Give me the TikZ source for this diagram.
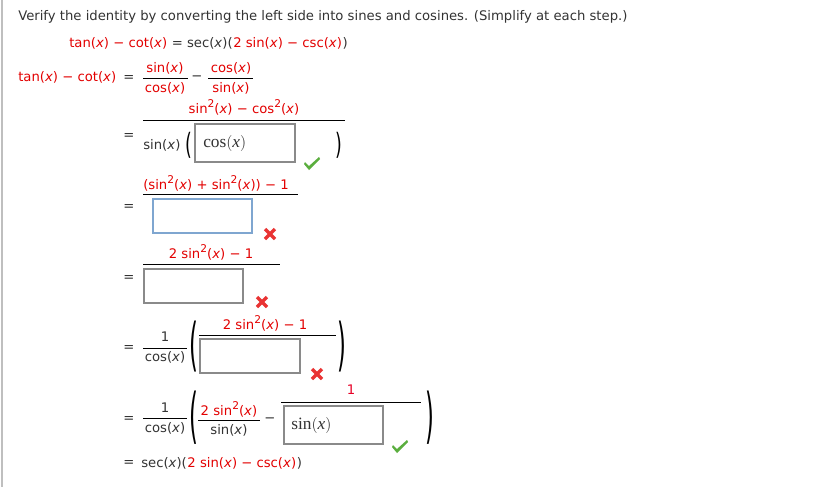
\documentclass[tikz,border=0pt]{standalone}
\usepackage{fontspec}
\setmainfont{DejaVu Sans}
\newfontfamily\serf{Liberation Serif}
\definecolor{rd}{HTML}{E30000}
\definecolor{gy}{HTML}{333333}
\definecolor{bx}{HTML}{8A8A8A}
\definecolor{bb}{HTML}{7FA6D0}
\definecolor{ok}{HTML}{5AAE3E}
\newcommand\X{\textit{x}}
\newcommand\Sq{\raisebox{0.45em}{\fontsize{8}{8}\selectfont 2}}
\tikzset{
 t/.style={anchor=west,inner sep=0pt,font=\fontsize{9.9}{11}\selectfont,text=gy},
 r/.style={t,text=rd},
 c/.style={anchor=center,inner sep=0pt,font=\fontsize{9.9}{11}\selectfont,text=gy},
 rc/.style={c,text=rd},
 fl/.style={draw=black,line width=0.75pt},
 ibox/.style={draw=bx,line width=0.8pt},
 bparen/.style={anchor=center,inner sep=0pt,text=black,font=\fontsize{10}{10}\selectfont},
}
\newcommand\checkm[2]{\fill[ok] (#1-7,#2-1) -- (#1-3,#2+3) -- (#1+7,#2-6) -- (#1+8,#2-4) -- (#1-3,#2+7) -- (#1-8,#2+1) -- cycle;}
\newcommand\crossm[2]{\draw[rd!80,line width=2.6pt] (#1-5,#2-5) -- (#1+5,#2+5) (#1-5,#2+5) -- (#1+5,#2-5);}
\begin{document}
\begin{tikzpicture}[x=0.75pt,y=-0.75pt]
\useasboundingbox (0,0) rectangle (830,487);
\fill[white] (0,0) rectangle (830,487);
\draw[gray!50,line width=1pt] (2,0) -- (2,487);
\node[t] (title) at (18,17) {Verify the identity by converting the left side into sines and cosines. (Simplify at each step.)};
% identity line
\node[r] (id1) at (69,43) {tan(\X) − cot(\X)};
\node[t] (id2) at (id1.east) [xshift=3pt] {= sec(\X)(};
\node[r] (id3) at (id2.east) {2 sin(\X) − csc(\X)};
\node[t] (id4) at (id3.east) {)};
% row 1
\node[r] (l1) at (18,77) {tan(\X) − cot(\X)};
\node[c] (e1) at (129,78) {=};
\node[rc] (n1a) at (165,68) {sin(\X)};
\node[rc] (d1a) at (165,88) {cos(\X)};
\draw[fl] (143,78) -- (188,78);
\node[c] (m1) at (197,78) {−};
\node[rc] (n1b) at (231,68) {cos(\X)};
\node[rc] (d1b) at (231,88) {sin(\X)};
\draw[fl] (208,78) -- (253,78);
% row 2
\node[rc] (n2) at (244,107) {sin\Sq(\X) − cos\Sq(\X)};
\draw[fl] (143,120) -- (345,120);
\node[c] (e2) at (129,136) {=};
\node[t] (d2) at (143,145) {sin(\X)};
\node[bparen] (p2a) at (189,145) {\scalebox{1.3}[2.2]{(}};
\draw[ibox] (195,124) rectangle (295,162);
\node[anchor=west,inner sep=0pt,text=gy,font=\serf\fontsize{13}{13}\selectfont] (b2) at (203,143) {cos$($\textit{x}$)$};
\checkm{312}{163}
\node[bparen] (p2b) at (339,145) {\scalebox{1.3}[2.2]{)}};
% row 3
\node[r] (n3) at (143,183) {(sin\Sq(\X) + sin\Sq(\X)) − 1};
\draw[fl] (143,194) -- (298,194);
\node[c] (e3) at (129,207) {=};
\draw[draw=bb,line width=0.8pt] (153,199) rectangle (252,233);
\crossm{270}{234}
% row 4
\node[rc] (n4) at (211,252) {2 sin\Sq(\X) − 1};
\draw[fl] (143,264) -- (280,264);
\node[c] (e4) at (129,278) {=};
\draw[ibox] (144,269) rectangle (243,303);
\crossm{262}{302}
% row 5
\node[c] (n5) at (165,337) {1};
\draw[fl] (143,348) -- (187,348);
\node[c] (d5) at (165,357) {cos(\X)};
\node[c] (e5) at (129,348) {=};
\node[bparen] (p5a) at (194,347) {\scalebox{1.7}[4.3]{(}};
\node[rc] (n5b) at (265,323) {2 sin\Sq(\X) − 1};
\draw[fl] (199,335) -- (336,335);
\draw[ibox] (200,339) rectangle (300,373);
\crossm{317}{374}
\node[bparen] (p5b) at (342,347) {\scalebox{1.7}[4.3]{)}};
% row 6
\node[c] (n6) at (165,408) {1};
\draw[fl] (143,418) -- (187,418);
\node[c] (d6) at (165,428) {cos(\X)};
\node[c] (e6) at (129,419) {=};
\node[bparen] (p6a) at (194,418) {\scalebox{1.7}[4.5]{(}};
\node[rc] (n6a) at (229,409) {2 sin\Sq(\X)};
\draw[fl] (198,420) -- (260,420);
\node[c] (d6a) at (229,430) {sin(\X)};
\node[c] (m6) at (270,420) {−};
\node[c,text=rd!85!magenta] (n6b) at (351,390) {1};
\draw[fl] (281,402) -- (421,402);
\draw[ibox] (284,406) rectangle (383,444);
\node[anchor=west,inner sep=0pt,text=gy,font=\serf\fontsize{13}{13}\selectfont] (b6) at (291,425) {sin$($\textit{x}$)$};
\checkm{400}{446}
\node[bparen] (p6b) at (430,418) {\scalebox{1.7}[4.5]{)}};
% row 7
\node[c] (e7) at (129,463) {=};
\node[t] (f1) at (141,463) {sec(\X)(};
\node[r] (f2) at (f1.east) {2 sin(\X) − csc(\X)};
\node[t] (f3) at (f2.east) {)};
\end{tikzpicture}
\end{document}
